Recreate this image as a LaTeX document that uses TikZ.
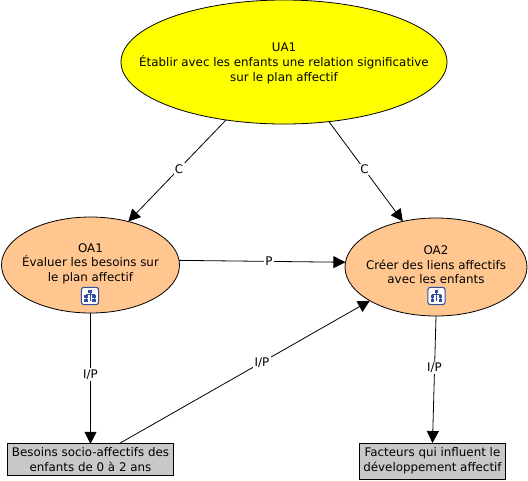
\documentclass[tikz,border=0pt]{standalone}
\usepackage{fontspec}
\setmainfont{DejaVu Sans}
\usepackage{xcolor}
\usetikzlibrary{shapes.geometric,arrows.meta}
\definecolor{goal}{HTML}{FFFF00}
\definecolor{peach}{HTML}{FFC690}
\definecolor{resource}{HTML}{C8C8C8}
\definecolor{iconblue}{HTML}{2F4F9F}
\tikzset{
  mapnode/.style={draw=black, line width=0.6pt, outer sep=0pt, inner sep=0pt, align=center,
    font=\fontsize{8.9}{11}\selectfont},
  maptext/.style={inner sep=0pt, align=center, font=\fontsize{8.9}{11}\selectfont},
  skill/.style={mapnode, ellipse, fill=peach},
  resbox/.style={mapnode, rectangle, fill=resource},
  link/.style={draw=black, line width=0.6pt, -{Triangle[length=9pt,width=9pt]}},
  linklabel/.style={fill=white, inner sep=1pt, font=\fontsize{8.9}{10}\selectfont},
  iconbox/.style={draw=iconblue, fill=white, line width=0.8pt, rounded corners=2pt,
    minimum size=13pt, inner sep=0pt, outer sep=0pt},
  hiericon/.pic={
    \fill[iconblue] (-1.2pt,2.4pt) rectangle (1.2pt,4.4pt);
    \fill[iconblue] (-4.2pt,-1.2pt) rectangle (-1.8pt,0.8pt);
    \fill[iconblue] (1.8pt,-1.2pt) rectangle (4.2pt,0.8pt);
    \fill[iconblue] (-4.2pt,-4.6pt) rectangle (-1.8pt,-2.6pt);
    \fill[iconblue] (1.8pt,-4.6pt) rectangle (4.2pt,-2.6pt);
    \draw[iconblue, line width=0.4pt] (0pt,2.4pt) -- (0pt,-3.6pt)
      (-3pt,-2.6pt) -- (-3pt,1.6pt) -- (3pt,1.6pt) -- (3pt,-2.6pt);
  }
}
\begin{document}
\begin{tikzpicture}[x=0.75pt, y=-0.75pt]
\useasboundingbox (0,0) rectangle (528,480);
\fill[white] (0,0) rectangle (528,480);

\node[mapnode, ellipse, fill=goal, minimum width=244.5pt, minimum height=93pt] (ua1) at (284,62) {};
\node[skill, minimum width=133.5pt, minimum height=72pt] (oa1) at (90.5,265) {};
\node[skill, minimum width=136.5pt, minimum height=73.5pt] (oa2) at (436,267) {};
\node[maptext] (ua1text) at (284,63.5)
  {UA1\\Établir avec les enfants une relation significative\\sur le plan affectif};
\node[maptext] (oa1text) at (90.5,263.5)
  {OA1\\Évaluer les besoins sur\\le plan affectif};
\node[maptext] (oa2text) at (436,265)
  {OA2\\Créer des liens affectifs\\avec les enfants};
\node[resbox, minimum width=124.5pt, minimum height=23.5pt] (besoins) at (90.5,459.5)
  {Besoins socio-affectifs des\\enfants de 0 à 2 ans};
\node[resbox, minimum width=109pt, minimum height=27pt] (facteurs) at (432.5,461)
  {Facteurs qui influent le\\développement affectif};

% icons
\node[iconbox] (iconoa1) at (90,296) {};
\pic at (iconoa1) {hiericon};
\node[iconbox] (iconoa2) at (436.5,296) {};
\pic at (iconoa2) {hiericon};

% links
\draw[link] (ua1.225.5) -- node[linklabel, pos=0.48] (c1) {C} (oa1.49);
\draw[link] (ua1.-53.4) -- node[linklabel, pos=0.48] (c2) {C} (oa2.126);
\draw[link] (oa1.3) -- node[linklabel, pos=0.54] (p1) {P} (oa2.177);
\draw[link] (oa1.south) -- node[linklabel, pos=0.47] (ip1) {I/P} (besoins.north);
\draw[link] (besoins.29) -- node[linklabel, pos=0.57] (ip2) {I/P} (oa2.207);
\draw[link] (oa2.south) -- node[linklabel, pos=0.41] (ip3) {I/P} (facteurs.north);
\end{tikzpicture}
\end{document}
